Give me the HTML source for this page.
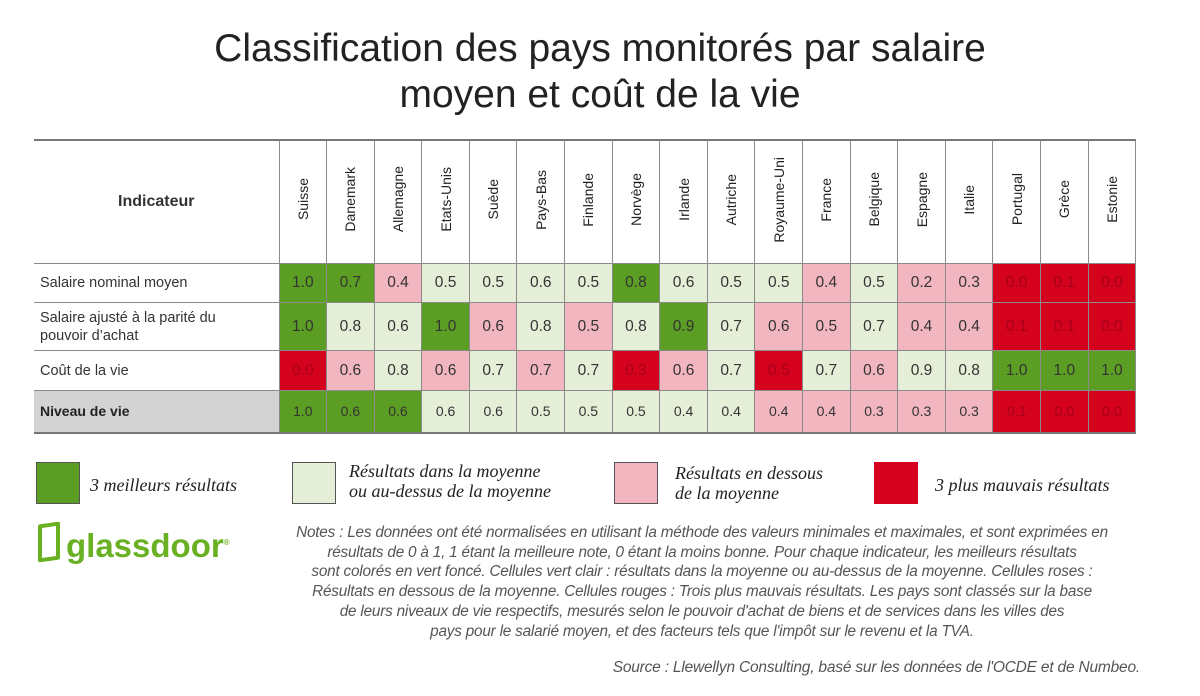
<!DOCTYPE html>
<html><head><meta charset="utf-8"><style>
body{margin:0;width:1200px;height:696px;background:#fff;position:relative;overflow:hidden;font-family:"Liberation Sans",sans-serif;color:#222}
.title{position:absolute;left:0;width:1200px;top:26px;text-align:center;font-size:39px;line-height:46px;color:#222;letter-spacing:0px}
table{position:absolute;left:34px;top:139px;border-collapse:collapse;table-layout:fixed;width:1102px}
td{border:1px solid #8a8a8a;padding:0;text-align:center;font-size:15.5px;color:#333}
tr.h td{height:122px;background:#fff}
tr.h td.c{border-top:2px solid #777}
tr.h td.i{border-left:none;border-top:2px solid #777;font-weight:bold;font-size:16px}
.v{display:inline-block;writing-mode:vertical-rl;transform:rotate(180deg);white-space:nowrap;font-size:14px;color:#222}
td.l{text-align:left;padding-left:6px;border-left:none;font-size:14.5px;color:#333}
.G{background:#5c9e23}.L{background:#e5efd8}.P{background:#f2b6c1}.R{background:#d4021d;color:#a8001a}
tr.n td{font-size:14px}
tr.n td.l{background:#d3d3d3;font-weight:bold;color:#222}
tr:last-child td{border-bottom:2px solid #777}
.lg{position:absolute;font-family:"Liberation Serif",serif;font-style:italic;font-size:18px;line-height:20px;color:#222;white-space:nowrap}
.bx{position:absolute;width:42px;height:40px;border:1px solid #555}
.notes{position:absolute;left:262px;top:523px;width:880px;text-align:center;font-style:italic;font-size:15.3px;line-height:19.7px;color:#555;white-space:nowrap;letter-spacing:-0.2px}
.src{position:absolute;right:60px;top:659px;font-style:italic;font-size:15.5px;color:#555;letter-spacing:-0.2px}
.logo{position:absolute;left:38px;top:523px;font-size:33px;font-weight:bold;color:#6ab023}
</style></head><body>
<div class="title">Classification des pays monitorés par salaire<br>moyen et coût de la vie</div>
<table>
<colgroup><col style="width:245px"><col span="18" style="width:47.6px"></colgroup>
<tr class="h"><td class="i">Indicateur</td>
<td class="c"><span class="v">Suisse</span></td><td class="c"><span class="v">Danemark</span></td><td class="c"><span class="v">Allemagne</span></td><td class="c"><span class="v">Etats-Unis</span></td><td class="c"><span class="v">Suède</span></td><td class="c"><span class="v">Pays-Bas</span></td><td class="c"><span class="v">Finlande</span></td><td class="c"><span class="v">Norvège</span></td><td class="c"><span class="v">Irlande</span></td><td class="c"><span class="v">Autriche</span></td><td class="c"><span class="v">Royaume-Uni</span></td><td class="c"><span class="v">France</span></td><td class="c"><span class="v">Belgique</span></td><td class="c"><span class="v">Espagne</span></td><td class="c"><span class="v">Italie</span></td><td class="c"><span class="v">Portugal</span></td><td class="c"><span class="v">Grèce</span></td><td class="c"><span class="v">Estonie</span></td></tr>
<tr style="height:39px"><td class="l">Salaire nominal moyen</td><td class="G">1.0</td><td class="G">0.7</td><td class="P">0.4</td><td class="L">0.5</td><td class="L">0.5</td><td class="L">0.6</td><td class="L">0.5</td><td class="G">0.8</td><td class="L">0.6</td><td class="L">0.5</td><td class="L">0.5</td><td class="P">0.4</td><td class="L">0.5</td><td class="P">0.2</td><td class="P">0.3</td><td class="R">0.0</td><td class="R">0.1</td><td class="R">0.0</td></tr>
<tr style="height:48px"><td class="l" style="line-height:18px">Salaire ajusté à la parité du<br>pouvoir d’achat</td><td class="G">1.0</td><td class="L">0.8</td><td class="L">0.6</td><td class="G">1.0</td><td class="P">0.6</td><td class="L">0.8</td><td class="P">0.5</td><td class="L">0.8</td><td class="G">0.9</td><td class="L">0.7</td><td class="P">0.6</td><td class="P">0.5</td><td class="L">0.7</td><td class="P">0.4</td><td class="P">0.4</td><td class="R">0.1</td><td class="R">0.1</td><td class="R">0.0</td></tr>
<tr style="height:40px"><td class="l">Coût de la vie</td><td class="R">0.0</td><td class="P">0.6</td><td class="L">0.8</td><td class="P">0.6</td><td class="L">0.7</td><td class="P">0.7</td><td class="L">0.7</td><td class="R">0.3</td><td class="P">0.6</td><td class="L">0.7</td><td class="R">0.5</td><td class="L">0.7</td><td class="P">0.6</td><td class="L">0.9</td><td class="L">0.8</td><td class="G">1.0</td><td class="G">1.0</td><td class="G">1.0</td></tr>
<tr class="n" style="height:42px"><td class="l">Niveau de vie</td><td class="G">1.0</td><td class="G">0.6</td><td class="G">0.6</td><td class="L">0.6</td><td class="L">0.6</td><td class="L">0.5</td><td class="L">0.5</td><td class="L">0.5</td><td class="L">0.4</td><td class="L">0.4</td><td class="P">0.4</td><td class="P">0.4</td><td class="P">0.3</td><td class="P">0.3</td><td class="P">0.3</td><td class="R">0.1</td><td class="R">0.0</td><td class="R">0.0</td></tr>
</table>
<div class="bx G" style="left:36px;top:462px"></div><div class="lg" style="left:90px;top:475px">3 meilleurs résultats</div>
<div class="bx L" style="left:292px;top:462px"></div><div class="lg" style="left:349px;top:461px">Résultats dans la moyenne<br>ou au-dessus de la moyenne</div>
<div class="bx P" style="left:614px;top:462px"></div><div class="lg" style="left:675px;top:463px">Résultats en dessous<br>de la moyenne</div>
<div class="bx R" style="left:874px;top:462px;border-color:#d4021d"></div><div class="lg" style="left:935px;top:475px">3 plus mauvais résultats</div>
<div class="logo"><span style="display:inline-block;width:14px;height:30px;border:4px solid #6ab023;border-radius:2px;vertical-align:-4px;margin-right:6px;transform:skewY(-8deg)"></span>glassdoor<sup style="font-size:8px">®</sup></div>
<div class="notes">Notes : Les données ont été normalisées en utilisant la méthode des valeurs minimales et maximales, et sont exprimées en<br>résultats de 0 à 1, 1 étant la meilleure note, 0 étant la moins bonne. Pour chaque indicateur, les meilleurs résultats<br>sont colorés en vert foncé. Cellules vert clair : résultats dans la moyenne ou au-dessus de la moyenne. Cellules roses :<br>Résultats en dessous de la moyenne. Cellules rouges : Trois plus mauvais résultats. Les pays sont classés sur la base<br>de leurs niveaux de vie respectifs, mesurés selon le pouvoir d'achat de biens et de services dans les villes des<br>pays pour le salarié moyen, et des facteurs tels que l'impôt sur le revenu et la TVA.</div>
<div class="src">Source : Llewellyn Consulting, basé sur les données de l'OCDE et de Numbeo.</div>
</body></html>
